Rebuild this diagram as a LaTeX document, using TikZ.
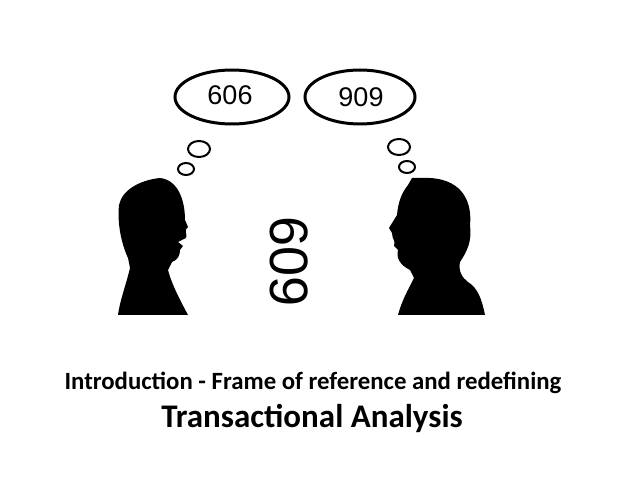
\documentclass[tikz,border=0pt]{standalone}
\usepackage{fontspec}
\setmainfont{Carlito}
\newfontfamily\arial{Liberation Sans}
\begin{document}
\begin{tikzpicture}[x=1pt,y=-1pt,
  bub/.style={draw=black,line width=3pt},
  sbub/.style={draw=black,line width=2pt},
  sil/.style={fill=black}]
\useasboundingbox (0,0) rectangle (638,478);
\draw[bub] (232,97) ellipse (57 and 27);
\draw[bub] (360,97) ellipse (55 and 27);
\node[font=\arial\fontsize{27}{27}\selectfont] (l) at (230,95) {606};
\node[font=\arial\fontsize{27}{27}\selectfont] (r) at (361,97) {909};
\draw[sbub] (199,149) ellipse (11 and 8);
\draw[sbub] (186,169) ellipse (8 and 6);
\draw[sbub] (399,147) ellipse (11 and 8);
\draw[sbub] (407,167) ellipse (8 and 6);
\node[font=\arial\fontsize{54}{54}\selectfont,rotate=-90] (m) at (289,262) {609};
% left silhouette
\fill[sil] (160,178) .. controls (140,180) and (122,190) .. (119,205)
 .. controls (117,225) and (122,245) .. (128,258) -- (130,268)
 .. controls (126,285) and (120,300) .. (118,315) -- (188,315)
 .. controls (180,300) and (172,285) .. (168,270) -- (172,262)
 .. controls (178,260) and (180,255) .. (180,250) -- (183,246) -- (178,242) -- (186,238)
 .. controls (188,235) and (183,230) .. (188,227) -- (185,220)
 .. controls (185,200) and (178,180) .. (160,178) -- cycle;
% right silhouette
\fill[sil] (430,178) -- (412,178) -- (408,185) .. controls (400,195) and (398,205) .. (397,215)
 -- (389,228) -- (392,233) .. controls (392,240) and (396,240) .. (394,246) -- (398,250)
 .. controls (396,258) and (400,265) .. (410,270) -- (414,278)
 .. controls (408,290) and (402,300) .. (398,315) -- (485,315)
 .. controls (482,300) and (478,288) .. (468,282) .. controls (462,278) and (458,270) .. (460,262)
 .. controls (468,250) and (472,240) .. (470,225) .. controls (472,205) and (465,180) .. (430,178) -- cycle;
\node[font=\bfseries\fontsize{24.8}{26}\selectfont] (t1) at (313,383) {Introduction - Frame of reference and redefining};
\node[font=\bfseries\fontsize{33}{35}\selectfont] (t2) at (312,418) {Transactional Analysis};
\end{tikzpicture}
\end{document}
